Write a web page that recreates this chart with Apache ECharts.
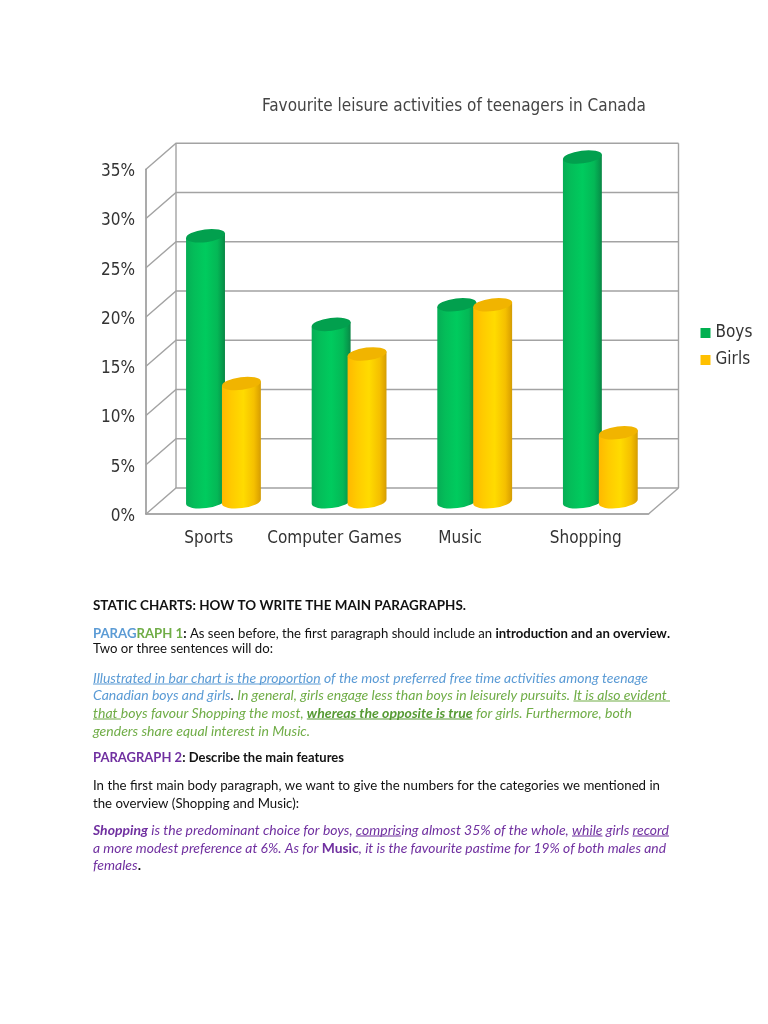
<!DOCTYPE html>
<html>
<head>
<meta charset="utf-8">
<title>Favourite leisure activities of teenagers in Canada</title>
<script src="https://cdn.jsdelivr.net/npm/echarts@6/dist/echarts.min.js"></script>
<style>html,body{margin:0;background:#fff}#c{width:768px;height:1024px}</style>
</head>
<body>
<div id="c"></div>
<script>
// Chart values
const categories = ['Sports', 'Computer Games', 'Music', 'Shopping'];
const boys = [27, 18, 20, 35];
const girls = [12, 15, 20, 7];
const yTicks = [0, 5, 10, 15, 20, 25, 30, 35];
const chartTitle = 'Favourite leisure activities of teenagers in Canada';

// Text colours for the article below the chart
const BLUE = '#5b9bd5', GREEN = '#70ad47', DKGREEN = '#559a33', PURPLE = '#7030a0', INK = '#111111';

// Each run: [text, colour, flags] where flags may hold b (bold), i (italic), u (underline)
const articleLines = [
  { y: 605, right: 466, runs: [['STATIC CHARTS: HOW TO WRITE THE MAIN PARAGRAPHS.', INK, 'b']] },
  { y: 633, right: 670, runs: [['PARAG', BLUE, 'b'], ['RAPH 1', GREEN, 'b'], [':', INK, 'b'],
    [' As seen before, the first paragraph should include an ', INK, ''], ['introduction and an overview', INK, 'b'], ['.', INK, 'b']] },
  { y: 648, right: 273, runs: [['Two or three sentences will do:', INK, '']] },
  { y: 678, right: 648, runs: [['Illustrated in bar chart is the proportion', BLUE, 'iu'],
    [' of the most preferred free time activities among teenage', BLUE, 'i']] },
  { y: 695, right: 670, runs: [['Canadian boys and girls', BLUE, 'i'], ['.', INK, 'i'],
    [' In general, girls engage less than boys in leisurely pursuits. ', GREEN, 'i'], ['It is also evident ', GREEN, 'iu']] },
  { y: 713, right: 632, runs: [['that ', GREEN, 'iu'], ['boys favour Shopping the most, ', GREEN, 'i'],
    ['whereas the opposite is true', DKGREEN, 'biu'], [' for girls. Furthermore, both', GREEN, 'i']] },
  { y: 731, right: 310, runs: [['genders share equal interest in Music.', GREEN, 'i']] },
  { y: 757, right: 344, runs: [['PARAGRAPH 2', PURPLE, 'b'], [': Describe the main features', INK, 'b']] },
  { y: 785, right: 660, runs: [['In the first main body paragraph, we want to give the numbers for the categories we mentioned in', INK, '']] },
  { y: 803, right: 299, runs: [['the overview (Shopping and Music):', INK, '']] },
  { y: 830, right: 669, runs: [['Shopping', PURPLE, 'bi'], [' is the predominant choice for boys, ', PURPLE, 'i'], ['compris', PURPLE, 'iu'],
    ['ing almost 35% of the whole, ', PURPLE, 'i'], ['while', PURPLE, 'iu'], [' girls ', PURPLE, 'i'], ['record', PURPLE, 'iu']] },
  { y: 848, right: 666, runs: [['a more modest preference at 6%. As for ', PURPLE, 'i'], ['Music', PURPLE, 'b'],
    [', it is the favourite pastime for 19% of both males and', PURPLE, 'i']] },
  { y: 865, right: 141, runs: [['females', PURPLE, 'i'], ['.', INK, 'b']] }
];

// Oblique projection of the plot box
const DEPTH_X = 30, DEPTH_Y = 26;
const WALL = '#a3a3a3';
const CHART_FONT = '"DejaVu Sans Condensed", "DejaVu Sans"';

// Cylinder geometry in pixels
const BAR_RX = 19.6, BAR_RY = 6.4, BAR_TILT = -7, BAR_LIFT = 12.3;
const tiltRad = BAR_TILT * Math.PI / 180;
const edgeDx = BAR_RX * Math.cos(tiltRad), edgeDy = BAR_RX * Math.sin(tiltRad);

function hGradient(stops) {
  return new echarts.graphic.LinearGradient(0, 0, 1, 0, stops.map((c, i) => ({ offset: c[0], color: c[1] })));
}
const palette = {
  boys: {
    legend: '#00b050',
    body: hGradient([[0, '#06ad55'], [0.2, '#04bd59'], [0.5, '#00cb5e'], [0.8, '#04b856'], [0.93, '#069a4c'], [1, '#0a8444']]),
    cap: '#02a04e'
  },
  girls: {
    legend: '#ffc000',
    body: hGradient([[0, '#ffb800'], [0.25, '#ffcb00'], [0.55, '#ffdb00'], [0.82, '#f5c000'], [0.95, '#dfa600'], [1, '#cf9a08']]),
    cap: '#f1b400'
  }
};

// A tilted cylinder standing on the floor at the mid depth of the box
function cylinder(shift, colours) {
  return function (params, api) {
    const base = api.coord([api.value(0), 0]);
    const top = api.coord([api.value(0), api.value(1)]);
    const cx = base[0] + shift;
    const yb = base[1] - BAR_LIFT, yt = top[1] - BAR_LIFT;
    const lx = cx - edgeDx, rx = cx + edgeDx;
    const arc = BAR_RX + ' ' + BAR_RY + ' ' + BAR_TILT;
    const body = 'M' + lx + ' ' + (yt - edgeDy) + 'L' + lx + ' ' + (yb - edgeDy) +
      'A' + arc + ' 0 0 ' + rx + ' ' + (yb + edgeDy) + 'L' + rx + ' ' + (yt + edgeDy) + 'Z';
    const cap = 'M' + lx + ' ' + (yt - edgeDy) + 'A' + arc + ' 1 1 ' + rx + ' ' + (yt + edgeDy) +
      'A' + arc + ' 1 1 ' + lx + ' ' + (yt - edgeDy) + 'Z';
    return {
      type: 'group',
      children: [
        { type: 'path', shape: { pathData: body }, style: { fill: colours.body } },
        { type: 'path', shape: { pathData: cap }, style: { fill: colours.cap } }
      ]
    };
  };
}

// Side and back walls plus the floor, one polyline per tick value
function walls(params, api) {
  const box = params.coordSys;
  const v = api.value(0);
  const y = api.coord([0, v])[1];
  const left = box.x, right = box.x + box.width;
  const stroke = { stroke: WALL, lineWidth: 1.4, fill: null };
  const children = [{
    type: 'polyline',
    shape: { points: [[left, y], [left + DEPTH_X, y - DEPTH_Y], [right + DEPTH_X, y - DEPTH_Y]] },
    style: stroke
  }];
  if (v === 0) {
    children.push({ type: 'line', shape: { x1: right, y1: y, x2: right + DEPTH_X, y2: y - DEPTH_Y }, style: stroke });
  }
  if (v === yTicks[yTicks.length - 1]) {
    const y0 = api.coord([0, 0])[1] - DEPTH_Y;
    [left + DEPTH_X, right + DEPTH_X].forEach(function (x) {
      children.push({ type: 'line', shape: { x1: x, y1: y - DEPTH_Y, x2: x, y2: y0 }, style: stroke });
    });
  }
  return { type: 'group', children: children };
}

// Lays the article out line by line; every run is its own text element
const measurer = document.createElement('canvas').getContext('2d');
const BODY_FONT = 'Lato', BODY_SIZE = 14;
function runFont(flags) {
  return (flags.includes('i') ? 'italic ' : '') + (flags.includes('b') ? 'bold ' : '') + BODY_SIZE + 'px ' + BODY_FONT;
}
function articleElements() {
  const els = [];
  const LEFT = 93;
  articleLines.forEach(function (line) {
    let natural = 0;
    line.runs.forEach(function (r) { measurer.font = runFont(r[2]); natural += measurer.measureText(r[0]).width; });
    const squeeze = (line.right - LEFT) / natural;
    let x = LEFT;
    line.runs.forEach(function (r) {
      measurer.font = runFont(r[2]);
      const w = measurer.measureText(r[0]).width * squeeze;
      els.push({
        type: 'text', x: x, y: line.y, scaleX: squeeze, silent: true,
        style: { text: r[0], font: runFont(r[2]), fill: r[1], textAlign: 'left', textVerticalAlign: 'middle' }
      });
      if (r[2].includes('u')) {
        els.push({
          type: 'line', silent: true,
          shape: { x1: x, y1: line.y + 6, x2: x + w, y2: line.y + 6 },
          style: { stroke: r[1], lineWidth: 1 }
        });
      }
      x += w;
    });
  });
  return els;
}

const chart = echarts.init(document.getElementById('c'), null, { renderer: 'canvas' });
chart.setOption({
  animation: false,
  backgroundColor: '#ffffff',
  title: {
    text: chartTitle, left: 262, top: 98, padding: 0,
    textStyle: { fontFamily: CHART_FONT, fontSize: 17, fontWeight: 'normal', color: '#444444' }
  },
  legend: {
    orient: 'vertical', left: 700.5, top: 324.5, padding: 0, itemWidth: 10, itemHeight: 10, itemGap: 10,
    icon: 'rect', data: ['Boys', 'Girls'],
    textStyle: { fontFamily: CHART_FONT, fontSize: 17, color: '#333333' }
  },
  grid: { left: 146, top: 169.3, width: 502.5, height: 344.7 },
  xAxis: {
    type: 'category', data: categories,
    axisTick: { show: false },
    axisLine: { lineStyle: { color: '#8f8f8f', width: 1.5 } },
    axisLabel: { margin: 16, interval: 0, fontFamily: CHART_FONT, fontSize: 17, color: '#333333' }
  },
  yAxis: {
    type: 'value', min: 0, max: 35, interval: 5,
    splitLine: { show: false },
    axisTick: { show: false },
    axisLine: { show: true, lineStyle: { color: '#8f8f8f', width: 1.5 } },
    // A short line box hung from the tick sets the labels slightly below it
    axisLabel: { margin: 11, verticalAlign: 'top', lineHeight: 5, formatter: '{value}%', fontFamily: CHART_FONT, fontSize: 17, color: '#333333' }
  },
  graphic: { elements: articleElements() },
  series: [
    {
      name: 'Box', type: 'custom', silent: true, z: 1,
      encode: { y: 0 }, data: yTicks.map(function (t) { return [t]; }),
      renderItem: walls
    },
    {
      name: 'Boys', type: 'custom', z: 2, itemStyle: { color: palette.boys.legend },
      encode: { x: 0, y: 1 }, data: boys.map(function (v, i) { return [i, v]; }),
      renderItem: cylinder(-3.3, palette.boys)
    },
    {
      name: 'Girls', type: 'custom', z: 3, itemStyle: { color: palette.girls.legend },
      encode: { x: 0, y: 1 }, data: girls.map(function (v, i) { return [i, v]; }),
      renderItem: cylinder(32.6, palette.girls)
    }
  ]
});
</script>
</body>
</html>
